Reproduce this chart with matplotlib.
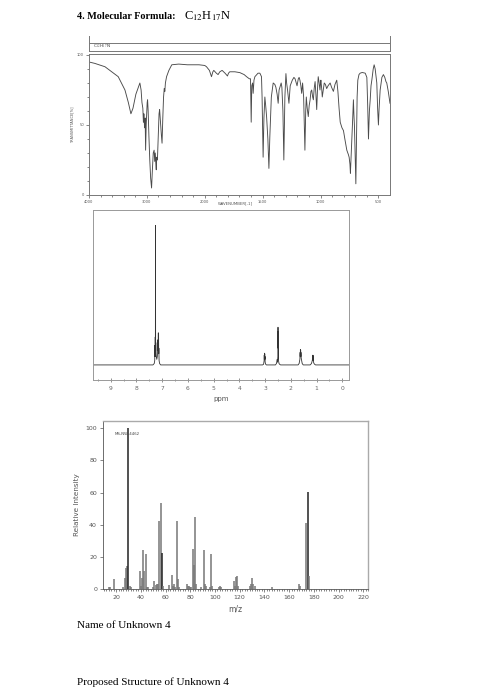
import numpy as np
import matplotlib
matplotlib.use("Agg")
import matplotlib.pyplot as plt
from matplotlib.ticker import FixedLocator, MultipleLocator

plt.rcParams["mathtext.fontset"] = "stix"

# IR spectrum (wavenumber cm-1, transmittance %)
ir_wavenumber = [
    4000, 3900, 3724, 3609, 3495, 3379, 3320, 3276, 3240, 3190, 3121, 3100, 3085, 3070,
    3060, 3052, 3040, 3030, 3022, 3012, 2995, 2988, 2978, 2965, 2950, 2935, 2919, 2905,
    2890, 2875, 2865, 2855, 2845, 2838, 2830, 2818, 2805, 2790, 2780, 2765, 2750, 2738,
    2725, 2712, 2700, 2690, 2680, 2660, 2620, 2570, 2450, 2300, 2100, 2000, 1985, 1960,
    1942, 1930, 1922, 1900, 1885, 1870, 1850, 1825, 1804, 1795, 1784, 1740, 1697, 1660,
    1639, 1615, 1605, 1599, 1594, 1587, 1582, 1575, 1567, 1540, 1524, 1510, 1505, 1496,
    1489, 1481, 1474, 1466, 1455, 1446, 1438, 1425, 1409, 1395, 1386, 1375, 1366, 1358,
    1351, 1340, 1334, 1325, 1317, 1308, 1299, 1293, 1285, 1273, 1262, 1244, 1230, 1220,
    1210, 1203, 1192, 1185, 1178, 1170, 1163, 1155, 1146, 1135, 1128, 1123, 1115, 1106,
    1098, 1090, 1083, 1076, 1068, 1062, 1055, 1047, 1040, 1033, 1026, 1020, 1012, 1005,
    1000, 997, 990, 985, 975, 968, 958, 947, 935, 917, 905, 889, 875, 860, 850, 840, 830,
    815, 802, 790, 773, 760, 753, 746, 742, 737, 730, 722, 716, 712, 707, 700, 695, 690,
    684, 678, 668, 658, 640, 614, 605, 600, 593, 586, 578, 571, 564, 557, 545, 537, 528,
    520, 514, 507, 500, 494, 485, 470, 457, 445, 435, 428, 415, 400,
]
ir_transmittance = [
    95, 94, 91.6, 88, 84.5, 75, 66, 58, 62, 72, 80, 75, 66, 62,
    52, 58, 48, 55, 32, 50, 66, 68, 60, 42, 25, 12, 5, 18,
    30, 32, 24, 30, 22, 18, 27, 25, 40, 58, 61, 52, 43, 37,
    55, 70, 76, 74, 80, 84.5, 89, 93, 93.5, 93, 93, 92.5, 91.6, 89,
    84.5, 88, 89, 87, 86, 88, 89, 87, 85, 87, 88, 88, 87.4, 86,
    84.5, 83, 83, 52, 78, 80, 72.6, 82, 84.5, 87, 87, 84.5, 70, 27,
    55, 70, 64, 56, 40, 19, 41.6, 70, 80, 79, 77, 72, 65.5, 75,
    77, 80, 77, 60, 25, 70, 86.7, 80, 75, 65.5, 78, 82, 84, 83,
    80, 78, 83, 84, 82, 78, 72.6, 80, 70, 32, 60, 70, 62, 56,
    64, 68, 74, 75, 70, 68, 76, 81, 72, 61, 76, 84.5, 80, 75,
    80, 82, 76, 70, 76, 80, 79, 76, 78, 80, 77, 74, 79, 82, 74, 62, 52,
    48, 46, 40, 32, 29, 27, 22, 15.5, 25, 37, 55, 68, 58, 49, 25, 8, 35,
    70, 82, 86, 87, 87.5, 87, 85, 84, 65, 40, 60, 68, 78, 82, 90, 93, 90,
    84, 80, 62, 50, 62, 75, 84, 86, 84, 81, 80, 74, 65.5,
]
ir_major = [4000, 3000, 2000, 1500, 1000, 500]

# 1H NMR trace (ppm, relative intensity)
nmr_ppm = [
    9.70, 7.36, 7.31, 7.29, 7.28, 7.275, 7.27, 7.265, 7.26, 7.255, 7.25, 7.24, 7.23,
    7.21, 7.19, 7.175, 7.165, 7.16, 7.15, 7.145, 7.14, 7.135, 7.13, 7.12, 7.10, 7.06,
    3.10, 3.06, 3.04, 3.035, 3.03, 3.025, 3.02, 3.015, 3.01, 3.005, 3.00, 2.98, 2.95,
    2.60, 2.56, 2.54, 2.53, 2.52, 2.505, 2.50, 2.495, 2.49, 2.485, 2.48, 2.46, 2.44, 2.40,
    1.72, 1.68, 1.65, 1.64, 1.635, 1.63, 1.625, 1.62, 1.615, 1.61, 1.60, 1.58, 1.56, 1.52,
    1.25, 1.20, 1.17, 1.155, 1.15, 1.145, 1.14, 1.135, 1.13, 1.125, 1.12, 1.10, 1.08, 1.04,
    -0.27,
]
nmr_int = [
    0, 0, 1, 3, 14, 6, 20, 8, 100, 10, 16, 9, 6,
    4, 6, 10, 18, 10, 23, 12, 21, 8, 12, 3, 1, 0,
    0, 0.5, 3, 7, 4, 8.4, 5, 8, 4, 6, 2, 0.5, 0,
    0, 1, 3, 4, 2, 6, 27, 12, 24, 5, 3, 1, 0.5, 0,
    0, 1, 4, 9, 6, 11, 7, 10.5, 6, 9, 5, 3, 1, 0,
    0, 1, 3, 5, 3.5, 7, 4, 6.5, 3.5, 5, 2, 1, 0.5, 0,
    0,
]
nmr_ticks = [9, 8, 7, 6, 5, 4, 3, 2, 1, 0]

# Mass spectrum (m/z, relative intensity)
ms_mz = [14, 15, 18, 26, 27, 28, 29, 30, 31, 32, 39, 40, 41, 42, 43, 44, 45, 46,
         50, 51, 52, 53, 54, 55, 56, 57, 58, 63, 65, 66, 67, 68, 69, 70, 71,
         77, 78, 79, 80, 81, 82, 83, 84, 85, 89, 91, 92, 93, 96, 97, 98,
         103, 104, 105, 115, 116, 117, 118, 119, 128, 129, 130, 131, 132,
         146, 168, 169, 174, 175, 176]
ms_int = [1, 1.5, 6, 1, 7, 13, 14.5, 100, 2, 1, 11, 2, 7, 24, 11, 22, 1.5, 1,
          1, 5, 2.5, 3, 3, 42, 53.5, 22.5, 2, 2.5, 9, 2, 3, 1.5, 42, 6, 1.5,
          3, 2, 2, 1, 1.5, 24.7, 15, 45, 3, 1.5, 24.3, 3, 2, 1.5, 21.8, 2,
          1.5, 2, 1.5, 5, 2, 7.3, 8, 2, 2, 3, 6.6, 3, 2,
          1, 3, 2, 41, 60.5, 8]
ms_dark = [30, 57, 175]
ms_ticks = [20, 40, 60, 80, 100, 120, 140, 160, 180, 200, 220]

W, H = 484, 700


def px_axes(fig, left, right, top, bottom):
    return fig.add_axes([left / W, 1 - bottom / H, (right - left) / W, (bottom - top) / H])


def ir_fwd(w):
    w = np.asarray(w, dtype=float)
    return np.where(w >= 2000, 2000 + (w - 2000) / 2, w)


def ir_inv(p):
    p = np.asarray(p, dtype=float)
    return np.where(p >= 2000, 2000 + 2 * (p - 2000), p)


fig = plt.figure(figsize=(W / 100, H / 100), dpi=100, facecolor="white")

# title
fig.text(77 / W, 1 - 19 / H, "4. Molecular Formula:", family="Liberation Serif",
         fontweight="bold", fontsize=7.3, va="baseline")
fig.text(184 / W, 1 - 19 / H, r"C$_{12}$H$_{17}$N", family="Liberation Serif",
         fontsize=9, va="baseline")

# ---- IR ----
hdr = px_axes(fig, 89, 390, 36, 50.5)
hdr.set_xticks([])
hdr.set_yticks([])
hdr.spines["top"].set_visible(False)
for s in hdr.spines.values():
    s.set_color("#777777")
    s.set_linewidth(0.7)
hdr.axhline(0.55, color="#777777", lw=0.7)
hdr.text(0.012, 0.27, r"C$_{12}$H$_{17}$N", fontsize=3.2, color="#444444",
         transform=hdr.transAxes, va="center")

ir = px_axes(fig, 89, 390, 54, 195)
ir.set_xscale("function", functions=(ir_fwd, ir_inv))
ir.plot(ir_wavenumber, ir_transmittance, color="#4a4a4a", lw=0.65)
ir.set_xlim(4000, 400)
ir.set_ylim(0, 100.7)
ir.xaxis.set_major_locator(FixedLocator(ir_major))
ir.xaxis.set_minor_locator(FixedLocator(list(range(3800, 2000, -200)) + list(range(1900, 400, -100))))
ir.set_xticklabels([str(v) for v in ir_major])
ir.set_yticks([0, 50, 100])
ir.yaxis.set_minor_locator(MultipleLocator(10))
ir.tick_params(which="both", labelsize=2.6, colors="#555555", length=2, width=0.5, pad=1.5)
ir.tick_params(which="minor", length=1.2)
for s in ir.spines.values():
    s.set_color("#777777")
    s.set_linewidth(0.7)
ir.set_xlabel("WAVENUMBER[-1]", fontsize=2.8, color="#555555", labelpad=1.5)
ir.xaxis.set_label_coords(0.485, -0.045)
ir.set_ylabel("TRANSMITTANCE[%]", fontsize=2.6, color="#555555", labelpad=2)

# ---- NMR ----
nmr = px_axes(fig, 92.7, 349.3, 210, 380)
nmr.plot(nmr_ppm, nmr_int, color="#333333", lw=0.6)
nmr.set_xlim(9.70, -0.27)
nmr.set_ylim(-10.8, 111)
nmr.set_yticks([])
nmr.set_xticks(nmr_ticks)
nmr.xaxis.set_minor_locator(MultipleLocator(0.5))
nmr.tick_params(which="both", labelsize=4.3, colors="#666666", direction="inout",
                length=2.5, width=0.5, pad=3)
nmr.tick_params(which="minor", length=1.5)
for s in nmr.spines.values():
    s.set_color("#999999")
    s.set_linewidth(0.7)
nmr.set_xlabel("ppm", fontsize=5, color="#555555", labelpad=4)

# ---- MS ----
ms = px_axes(fig, 103.3, 368.3, 421, 589)
colors = ["#222222" if m in ms_dark else "#777777" for m in ms_mz]
ms.vlines(ms_mz, 0, ms_int, colors=colors, lw=1.1)
ms.set_xlim(9.7, 224)
ms.set_ylim(0, 104.5)
ms.set_xticks(ms_ticks)
ms.xaxis.set_minor_locator(MultipleLocator(2))
ms.set_yticks([0, 20, 40, 60, 80, 100])
ms.tick_params(which="both", labelsize=4.5, colors="#555555", length=2.5, width=0.5, pad=2)
ms.tick_params(which="minor", length=1.3)
for side in ["top", "right"]:
    ms.spines[side].set_color("#aaaaaa")
    ms.spines[side].set_linewidth(1.0)
for side in ["left", "bottom"]:
    ms.spines[side].set_color("#555555")
    ms.spines[side].set_linewidth(0.6)
ms.set_xlabel("m/z", fontsize=5.5, color="#555555", labelpad=3)
ms.set_ylabel("Relative Intensity", fontsize=5.2, color="#555555", labelpad=4)
ms.text(28.7, 96.3, "MS-NW-4462", fontsize=2.8, color="#444444", ha="center", va="center")

# footer text
fig.text(77 / W, 1 - 626 / H, "Name of Unknown 4", family="Liberation Serif",
         fontsize=8, va="center")
fig.text(77 / W, 1 - 682 / H, "Proposed Structure of Unknown 4", family="Liberation Serif",
         fontsize=8, va="center")

fig.savefig("out.png", dpi=100, facecolor="white")
